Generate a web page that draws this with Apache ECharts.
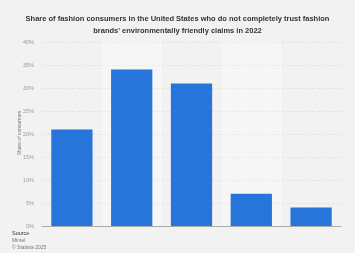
<!DOCTYPE html>
<html>
<head>
<meta charset="utf-8">
<script src="https://cdn.jsdelivr.net/npm/echarts@6/dist/echarts.min.js"></script>
<style>
html,body{margin:0;padding:0;background:#f2f2f2;}
#chart{width:355px;height:253px;}
</style>
</head>
<body>
<div id="chart"></div>
<script>
const titleText = "Share of fashion consumers in the United States who do not completely trust fashion\nbrands' environmentally friendly claims in 2022";
const categories = ["A", "B", "C", "D", "E"];
const shareValues = [21, 34, 31, 7, 4];
const yTicks = [0, 5, 10, 15, 20, 25, 30, 35, 40];
const yAxisName = "Share of consumers";
const sourceLines = ["Source", "Mintel", "© Statista 2025"];

const chart = echarts.init(document.getElementById('chart'), null, {renderer: 'canvas'});
chart.setOption({
  backgroundColor: '#f2f2f2',
  animation: false,
  title: {
    text: titleText,
    left: 'center',
    top: 8,
    textStyle: {fontFamily: 'Arial, Liberation Sans', fontSize: 7.5, fontWeight: 'bold', color: '#333', lineHeight: 12}
  },
  graphic: [{
    type: 'text', left: 12, top: 230,
    style: {text: sourceLines[0], font: '5.5px Arial, Liberation Sans', fill: '#333'}
  },{
    type: 'text', left: 12, top: 237,
    style: {text: sourceLines[1] + '\n' + sourceLines[2], font: '5px Arial, Liberation Sans', fill: '#777', lineHeight: 7}
  },{
    type: 'text', x: 20, y: 133, rotation: Math.PI / 2,
    style: {text: yAxisName, font: '5px Arial, Liberation Sans', fill: '#777', align: 'center', verticalAlign: 'middle'}
  }],
  grid: {left: 42, right: 14, top: 42, bottom: 27},
  xAxis: {
    type: 'category',
    data: categories,
    axisLabel: {show: false},
    axisTick: {show: false},
    axisLine: {lineStyle: {color: '#aaa', width: 1}},
    splitArea: {show: true, areaStyle: {color: ['rgba(0,0,0,0)', 'rgba(255,255,255,0.3)']}}
  },
  yAxis: {
    type: 'value',
    min: yTicks[0], max: yTicks[yTicks.length - 1], interval: 5,
    axisLabel: {formatter: '{value}%', fontFamily: 'Arial, Liberation Sans', fontSize: 5.5, color: '#999', margin: 8},
    axisLine: {show: false},
    axisTick: {show: false},
    splitLine: {lineStyle: {color: '#dcdcdc', type: [3, 2], width: 0.7}}
  },
  series: [{
    type: 'bar',
    data: shareValues,
    barWidth: '69%',
    itemStyle: {color: '#2775da'}
  }]
});
</script>
</body>
</html>
